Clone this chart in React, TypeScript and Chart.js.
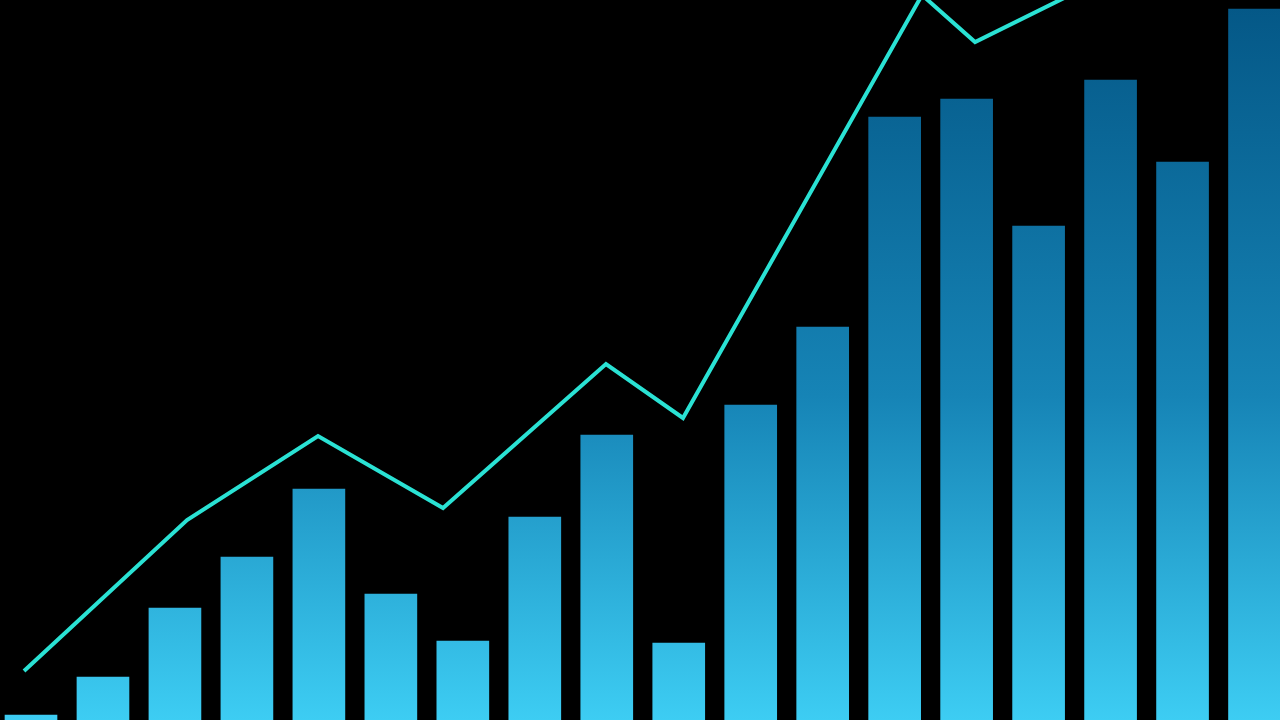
import React, { useEffect, useRef } from "react";
import { Chart, registerables } from "chart.js";

Chart.register(...registerables);

// Bar positions (category index) and heights (value units, 0..720)
const barIndex = [0, 1, 2, 3, 4, 5, 6, 7, 8, 9, 10, 11, 12, 13, 14, 15, 16, 17];
const barValues = [5, 43, 112, 163, 231, 126, 79, 203, 285, 77, 315, 393, 603, 621, 494, 640, 558, 711];

// Trend line points (fractional category positions and values)
const lineX = [-0.097, 2.168, 3.988, 5.725, 7.989, 9.059, 12.38, 13.117, 15.479];
const lineY = [49, 200, 284, 212, 356, 302, 725, 678, 762];

export default function App() {
  const ref = useRef<HTMLCanvasElement | null>(null);

  useEffect(() => {
    document.body.style.margin = "0";
    document.body.style.background = "#000";
    const canvas = ref.current!;
    const makeGradient = (ctx: any) => {
      const chart = ctx.chart;
      const area = chart.chartArea;
      if (!area) return "#1684b6";
      const g = chart.ctx.createLinearGradient(0, area.top, 0, area.bottom);
      g.addColorStop(0, "#045786");
      g.addColorStop(0.55, "#1684b6");
      g.addColorStop(1, "#3dcdf3");
      return g;
    };
    const chart = new Chart(canvas, {
      type: "bar",
      data: {
        datasets: [
          {
            type: "line",
            data: lineX.map((x, i) => ({ x, y: lineY[i] })),
            borderColor: "#2ae2d4",
            borderWidth: 4,
            pointRadius: 0,
            tension: 0,
            fill: false,
            order: 0,
          } as any,
          {
            type: "bar",
            data: barIndex.map((x, i) => ({ x, y: barValues[i] })),
            backgroundColor: makeGradient,
            barThickness: 52,
            borderWidth: 0,
            order: 1,
          } as any,
        ],
      },
      options: {
        animation: false,
        responsive: false,
        maintainAspectRatio: false,
        layout: { padding: 0 },
        plugins: { legend: { display: false }, tooltip: { enabled: false } },
        scales: {
          x: { type: "linear", min: -0.4307, max: 17.354, offset: false, display: false },
          y: { type: "linear", min: 0, max: 720, display: false },
        },
      },
    });
    return () => chart.destroy();
  }, []);

  return (
    <div style={{ position: "fixed", left: 0, top: 0, width: 1280, height: 720, background: "#000" }}>
      <canvas ref={ref} width={1280} height={720} style={{ display: "block", width: 1280, height: 720 }} />
    </div>
  );
}
